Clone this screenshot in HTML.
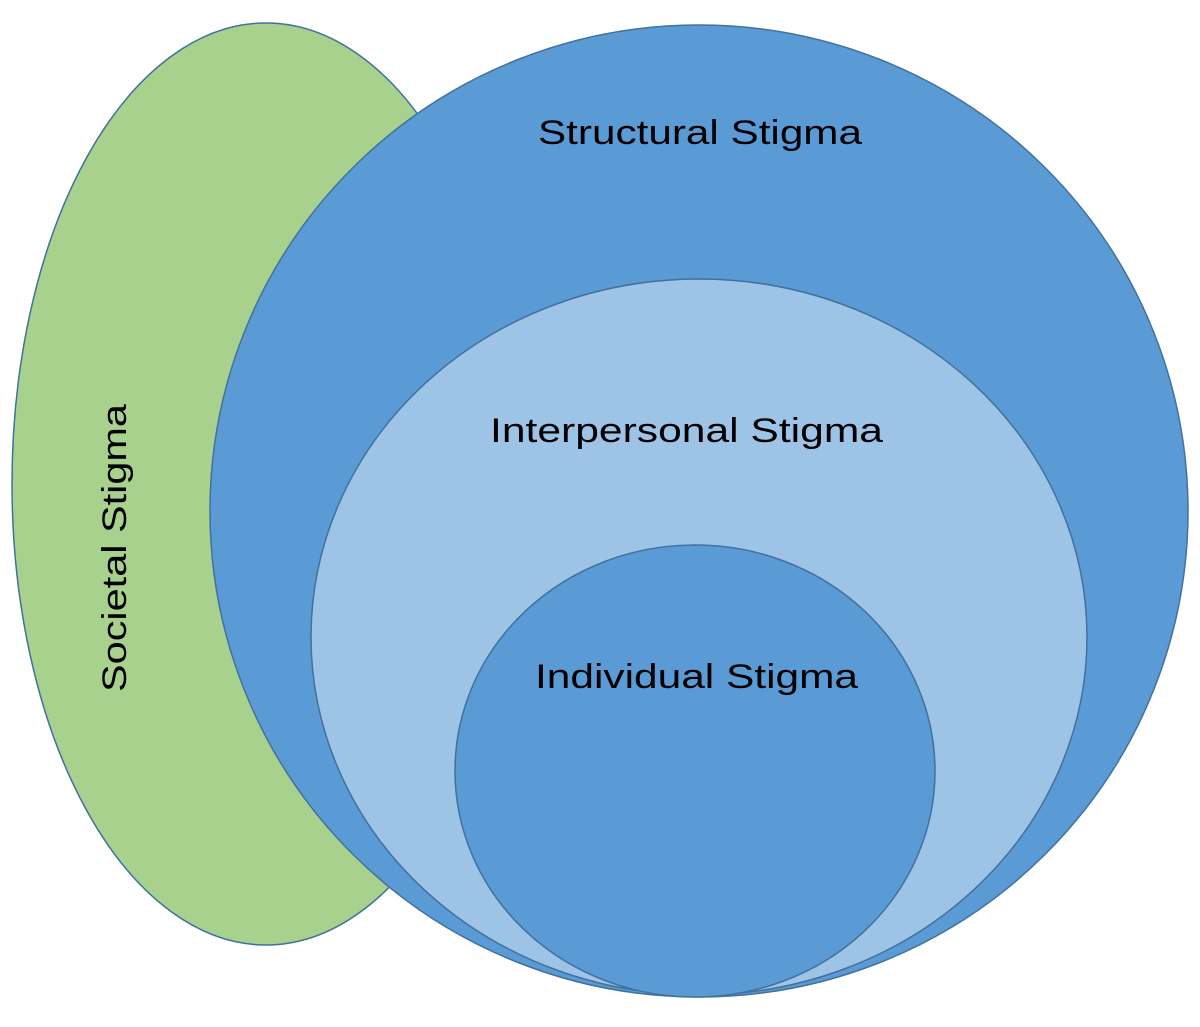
<!DOCTYPE html>
<html><head><meta charset="utf-8"><style>html,body{margin:0;padding:0;background:#fff}</style></head>
<body>
<svg width="1200" height="1022" viewBox="0 0 1200 1022" xmlns="http://www.w3.org/2000/svg" font-family="Liberation Sans, sans-serif" font-size="34" fill="#000">
<ellipse cx="266" cy="484" rx="254" ry="461" fill="#a9d18e" stroke="#41719c" stroke-width="1.5"/>
<ellipse cx="699" cy="511" rx="489" ry="486" fill="#5b9bd5" stroke="#41719c" stroke-width="1.5"/>
<ellipse cx="699" cy="637" rx="388" ry="358" fill="#9dc3e6" stroke="#41719c" stroke-width="1.5"/>
<ellipse cx="695" cy="771" rx="240" ry="226" fill="#5b9bd5" stroke="#41719c" stroke-width="1.5"/>
<text x="538" y="144" textLength="324" lengthAdjust="spacingAndGlyphs">Structural Stigma</text>
<text x="490" y="442" textLength="393" lengthAdjust="spacingAndGlyphs">Interpersonal Stigma</text>
<text x="535" y="688" textLength="323" lengthAdjust="spacingAndGlyphs">Individual Stigma</text>
<text transform="translate(126,692) rotate(-90)" x="0" y="0" textLength="288" lengthAdjust="spacingAndGlyphs">Societal Stigma</text>
</svg>
</body></html>
